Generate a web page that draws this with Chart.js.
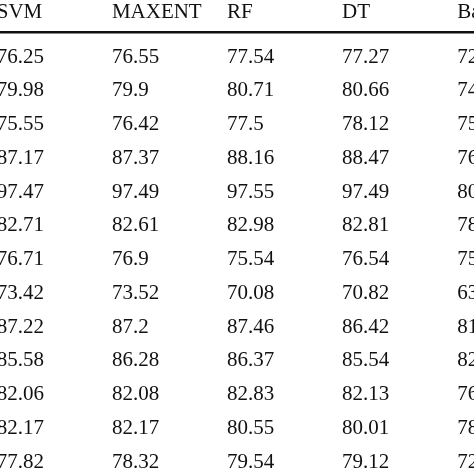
<!DOCTYPE html>
<html>
<head>
<meta charset="utf-8">
<script src="https://cdn.jsdelivr.net/npm/chart.js@4"></script>
<style>
  html, body { margin: 0; padding: 0; background: #fff; overflow: hidden; }
</style>
</head>
<body>
<canvas id="tbl" width="474" height="474"></canvas>
<script>
// table columns (last one is cut off in the source picture)
const columns = ['SVM', 'MAXENT', 'RF', 'DT', 'Bagging'];
const svm    = [76.25, 79.98, 75.55, 87.17, 97.47, 82.71, 76.71, 73.42, 87.22, 85.58, 82.06, 82.17, 77.82];
const maxent = [76.55, 79.9, 76.42, 87.37, 97.49, 82.61, 76.9, 73.52, 87.2, 86.28, 82.08, 82.17, 78.32];
const rf     = [77.54, 80.71, 77.5, 88.16, 97.55, 82.98, 75.54, 70.08, 87.46, 86.37, 82.83, 80.55, 79.54];
const dt     = [77.27, 80.66, 78.12, 88.47, 97.49, 82.81, 76.54, 70.82, 86.42, 85.54, 82.13, 80.01, 79.12];
const bag    = [72.4, 74.3, 75.2, 76.8, 80.1, 78.5, 75.6, 63.9, 81.2, 82.4, 76.7, 78.3, 72.9];
const series = [svm, maxent, rf, dt, bag];

const FONT = '21px "Liberation Serif", "DejaVu Serif", serif';

const tablePlugin = {
  id: 'tableText',
  afterDatasetsDraw(chart) {
    const { ctx, scales: { x, y } } = chart;
    ctx.save();
    ctx.font = FONT;
    ctx.fillStyle = '#111';
    ctx.textAlign = 'left';
    ctx.textBaseline = 'middle';
    columns.forEach((name, i) => {
      const px = x.getPixelForValue(i);
      ctx.fillText(name, px, y.getPixelForValue(-0.33));
      series[i].forEach((v, j) => {
        ctx.fillText(String(v), px, y.getPixelForValue(j + 1));
      });
    });
    // header rule
    ctx.strokeStyle = '#111';
    ctx.lineWidth = 2.5;
    const ry = y.getPixelForValue(0.27);
    ctx.beginPath();
    ctx.moveTo(0, ry);
    ctx.lineTo(chart.width, ry);
    ctx.stroke();
    ctx.restore();
  }
};

new Chart(document.getElementById('tbl'), {
  type: 'scatter',
  data: {
    datasets: series.map((vals, i) => ({
      label: columns[i],
      data: vals.map((v, j) => ({ x: i, y: j + 1 })),
      pointRadius: 0
    }))
  },
  options: {
    responsive: false,
    animation: false,
    layout: { padding: 0 },
    plugins: { legend: { display: false }, tooltip: { enabled: false } },
    scales: {
      x: { type: 'linear', display: false, min: 0.028, max: 0.028 + 474 / 115.1 },
      y: { type: 'linear', display: false, reverse: true, min: -0.689, max: -0.689 + 474 / 33.75 }
    }
  },
  plugins: [tablePlugin]
});
</script>
</body>
</html>
